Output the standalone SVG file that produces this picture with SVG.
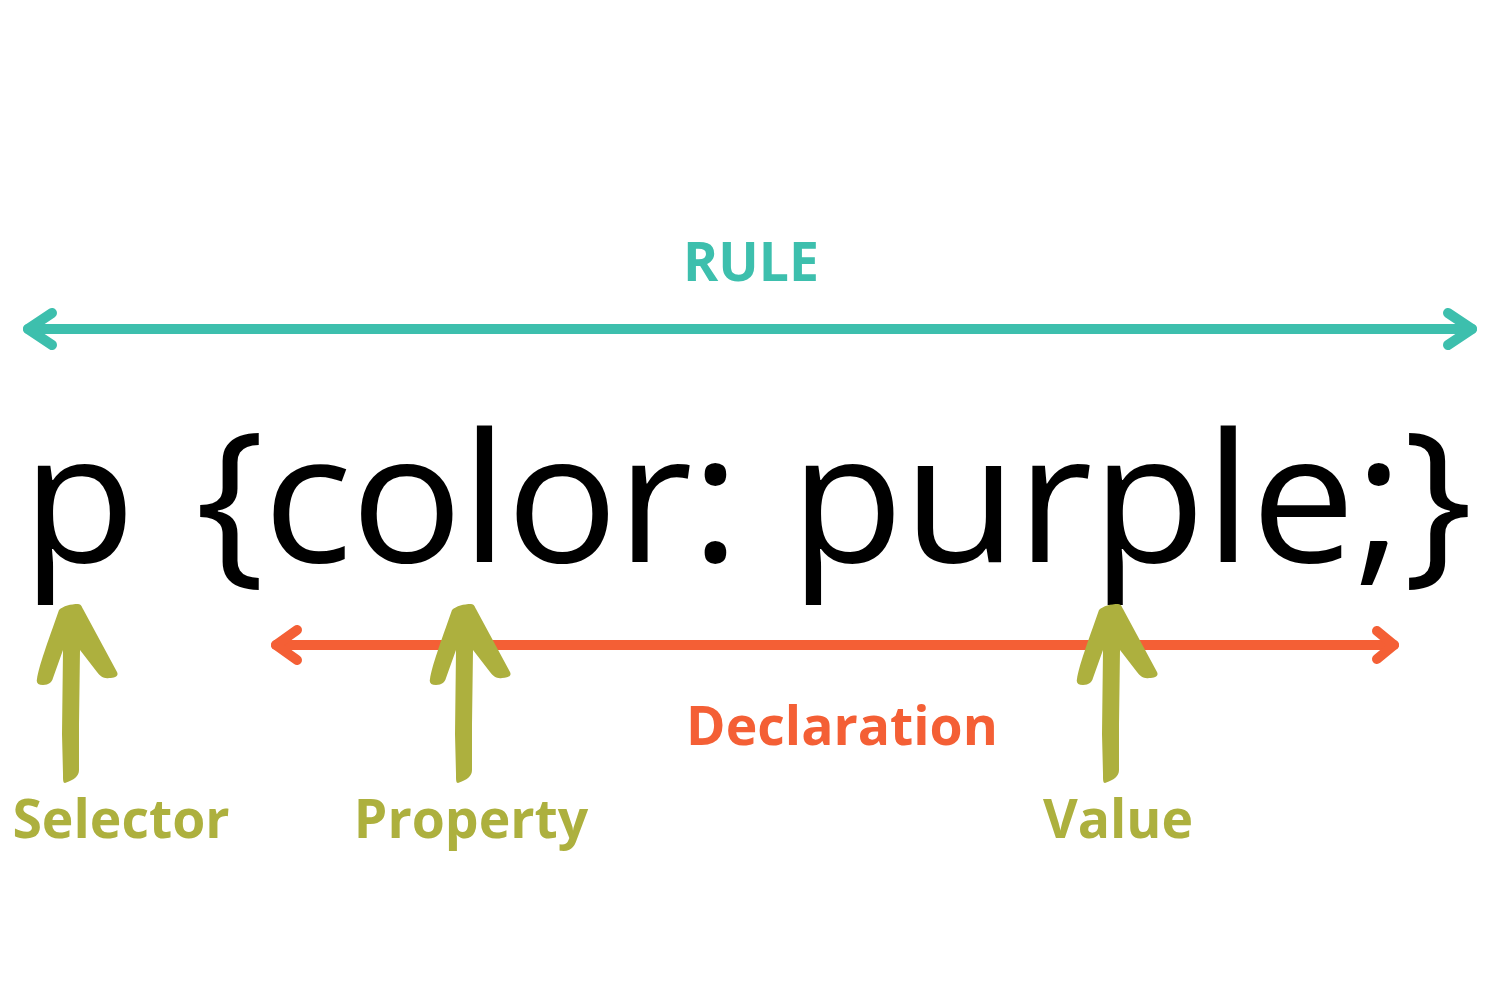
<svg xmlns="http://www.w3.org/2000/svg" xmlns:xlink="http://www.w3.org/1999/xlink" width="1500" height="1000" viewBox="0 0 1500 1000">
<style>
.code{font-family:"Open Sans","DejaVu Sans",sans-serif;font-size:186px;fill:#000}
.lbl{font-family:"Open Sans","DejaVu Sans",sans-serif;font-weight:700;font-size:53.5px}
.olive{fill:#adb03e}
.teal{stroke:#3dbfad}
.orange{stroke:#f45f35}
.ln{fill:none;stroke-width:10;stroke-linecap:round;stroke-linejoin:round}
</style>
<defs>
<path id="hand" d="M-12,6 C-8,2 0,0 7,0 C10,0 11,3 12,5 L46,68 C48,72 44,74 38,74 C33,75 29,72 26,68 L9,46 L8,120 L8,166 C8,172 3,176 -6,179 C-8,179 -8,176 -8,170 L-9,130 L-8,46 L-18,74 C-19,78 -22,81 -28,81 C-33,81 -35,79 -34,75 C-32,62 -24,40 -12,6 Z" fill="#adb03e"/>
</defs>
<rect width="1500" height="1000" fill="#fff"/>
<g id="code" transform="matrix(1,0,0,0.965,0,19.67)">
<text class="code" x="22" y="562">p</text>
<text class="code" x="195" y="562" letter-spacing="-1.6">{color:</text>
<text class="code" x="790" y="562" letter-spacing="-0.7">purple;}</text>
</g>
<g id="connectors">
<g id="rule-arrow" class="teal ln">
<line x1="28" y1="329" x2="1472" y2="329"/>
<polyline points="52,313 28,329 52,345"/>
<polyline points="1448,313 1472,329 1448,345"/>
</g>
<g id="declaration-arrow" class="orange ln">
<line x1="276" y1="645" x2="1394" y2="645"/>
<polyline points="297,630 276,645 297,660"/>
<polyline points="1377,631 1394,645 1377,659"/>
</g>
<use xlink:href="#hand" href="#hand" transform="translate(71,604)"/>
<use xlink:href="#hand" href="#hand" transform="translate(464,604)"/>
<use xlink:href="#hand" href="#hand" transform="translate(1111,604)"/>
</g>
<g id="rule"><text class="lbl" x="751" y="281" text-anchor="middle" fill="#3dbfad">RULE</text></g>
<g id="declaration"><text class="lbl" x="842" y="745" text-anchor="middle" fill="#f45f35">Declaration</text></g>
<g id="selector"><text class="lbl olive" x="121" y="838" text-anchor="middle">Selector</text></g>
<g id="property"><text class="lbl olive" x="471" y="838" text-anchor="middle">Property</text></g>
<g id="value"><text class="lbl olive" x="1118" y="838" text-anchor="middle">Value</text></g>
</svg>
